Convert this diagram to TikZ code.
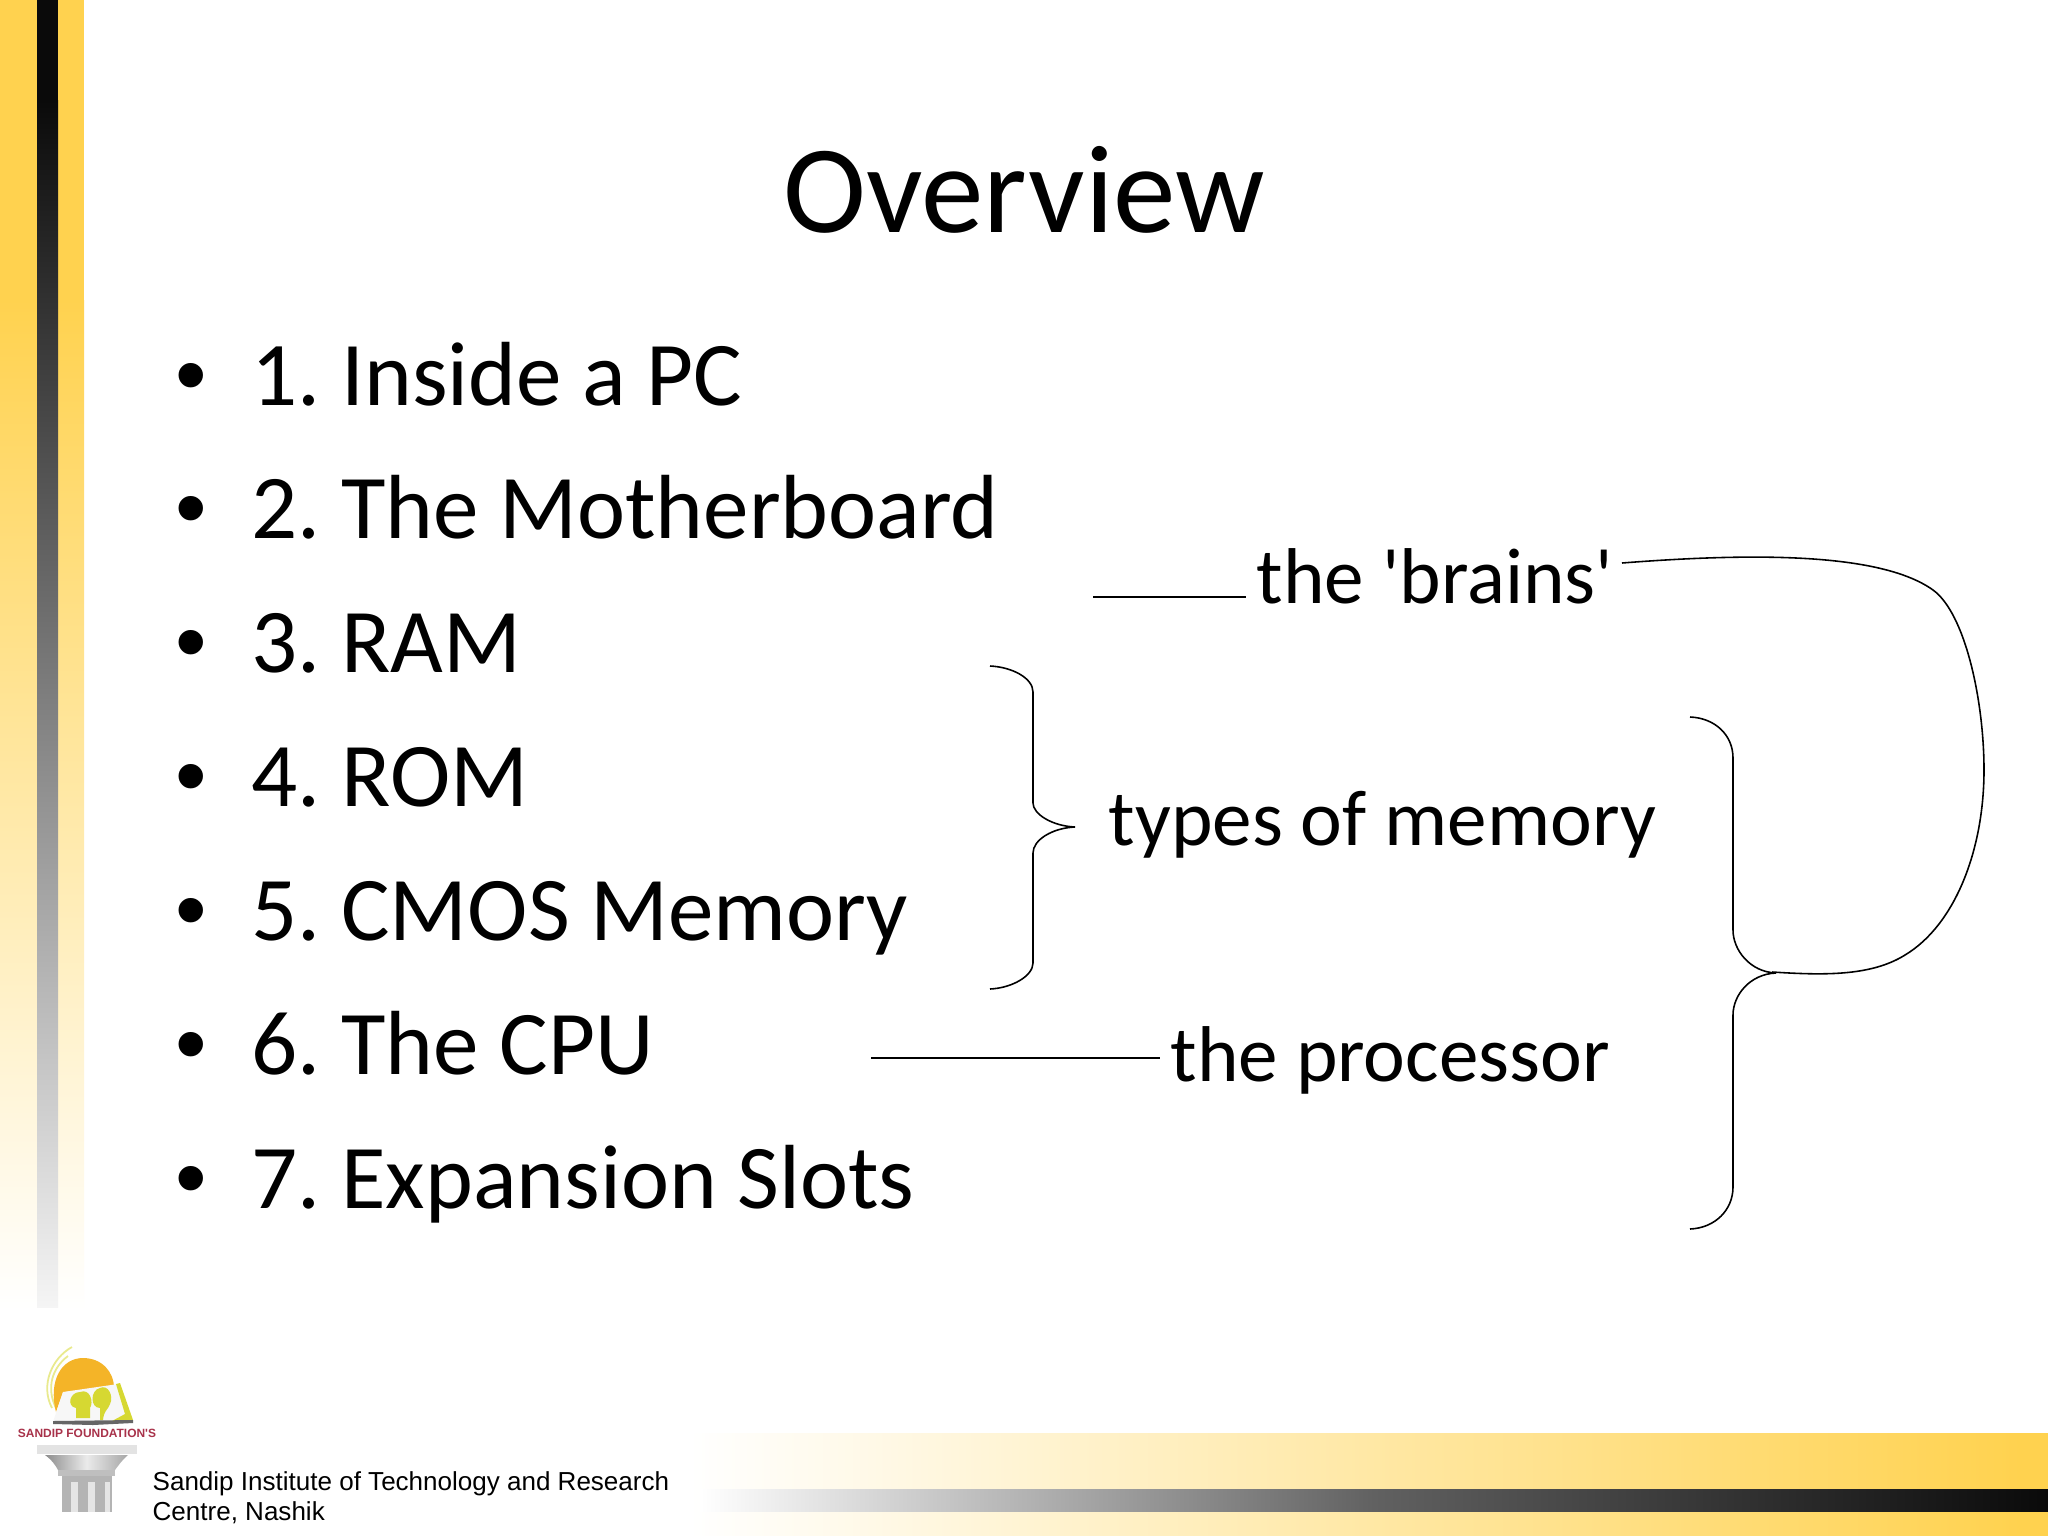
\documentclass[tikz,border=0pt]{standalone}
\usepackage{fontspec}
\setmainfont{Carlito}
\newfontfamily\labelfont{Carlito}
\newfontfamily\arialfont{Liberation Sans}
\frenchspacing
\definecolor{stripyellow}{HTML}{FFD24F}
\definecolor{stripblack}{HTML}{0A0A0A}
\definecolor{sunorange}{HTML}{F4B428}
\definecolor{treegreen}{HTML}{D6D832}
\definecolor{logored}{HTML}{A8324A}
\definecolor{pillargray}{HTML}{B4B4B4}
\tikzset{
	titletext/.style={anchor=base,font=\fontsize{35.6}{36}\selectfont,inner sep=0pt},
	itemtext/.style={anchor=base west,font=\fontsize{25.9}{26}\selectfont,inner sep=0pt},
	bullettext/.style={anchor=base,font=\arialfont\fontsize{25.6}{26}\selectfont,inner sep=0pt},
	notetext/.style={anchor=base west,font=\labelfont\fontsize{22.5}{23}\selectfont,inner sep=0pt},
	foottext/.style={anchor=base west,font=\arialfont\fontsize{7.4}{8}\selectfont,inner sep=0pt},
	thinline/.style={line width=0.45pt,black},
}
\newcommand{\drawitem}[3]{
	\node[bullettext] (bullet#1) at (191,#2) {•};
	\node[itemtext] (item#1) at (251,#2) {#3};
}
\newcommand{\drawstrips}{
	\fill[stripyellow] (0,0) rectangle (84,300);
	\shade[top color=stripyellow,bottom color=white] (0,300) rectangle (84,1310);
	\fill[stripblack] (37,0) rectangle (58,100);
	\shade[top color=stripblack,bottom color=black!4] (37,100) rectangle (58,1307);

	\shade[left color=white,right color=stripyellow] (690,1433) rectangle (2020,1536);
	\fill[stripyellow] (2020,1433) rectangle (2048,1536);
	\shade[left color=white,right color=stripblack,middle color=black!62] (700,1489) rectangle (2048,1511);
}
\newcommand{\drawlogo}{
	\draw[treegreen!55,line width=0.5pt] (72,1347) .. controls (52,1358) and (40,1385) .. (52,1408);
	\draw[treegreen!55,line width=0.5pt] (68,1356) .. controls (52,1368) and (46,1388) .. (56,1408);
	\fill[sunorange] (56,1412) .. controls (48,1380) and (62,1358) .. (83,1358) .. controls (102,1358) and (114,1372) .. (114,1388) -- (63,1392) -- cycle;
	\fill[white!97!black] (63,1392) -- (118,1384) -- (132,1420) -- (53,1422) -- cycle;
	\fill[treegreen] (116,1384) -- (120,1383) -- (133,1420) -- (112,1421) -- (125,1414) -- cycle;
	\fill[treegreen] (100,1420) -- (100,1408) .. controls (90,1408) and (90,1390) .. (100,1388) .. controls (108,1384) and (114,1396) .. (110,1404) .. controls (108,1410) and (104,1410) .. (103,1420) -- cycle;
	\fill[treegreen] (76,1418) -- (76,1408) .. controls (66,1406) and (70,1392) .. (80,1392) .. controls (90,1388) and (94,1402) .. (90,1408) -- (90,1418) -- cycle;
	\fill[black!60] (53,1421) -- (133,1420) -- (133,1423) -- (93,1425) -- (53,1424) -- cycle;
	\node[anchor=base,font=\arialfont\bfseries\fontsize{3.4}{4}\selectfont,text=logored,inner sep=0pt] (logoname) at (87,1437) {SANDIP FOUNDATION'S};
	\fill[black!11] (37,1445) rectangle (137,1454);
	\shade[left color=black!45,right color=black!35,middle color=black!8] (45,1455) .. controls (52,1460) and (56,1466) .. (58,1470) -- (115,1470) .. controls (118,1466) and (122,1460) .. (128,1455) -- cycle;
	\fill[black!25] (58,1470) rectangle (115,1476);
	\fill[pillargray] (62,1476) rectangle (112,1512);
	\fill[black!10] (71,1482) rectangle (78,1512);
	\fill[black!10] (88,1482) rectangle (95,1512);
	\fill[black!10] (105,1482) rectangle (110,1512);
}

\begin{document}
\begin{tikzpicture}[x=0.01cm,y=-0.01cm]
	\useasboundingbox (0,0) rectangle (2048,1536);
	\fill[white] (0,0) rectangle (2048,1536);
	\drawstrips{}
	\drawlogo{}

	\node[titletext] (title) at (1024,232) {Overview};

	\drawitem{1}{405}{1. Inside a PC}
	\drawitem{2}{538}{2. The Motherboard}
	\drawitem{3}{672}{3. RAM}
	\drawitem{4}{806}{4. ROM}
	\drawitem{5}{940}{5. CMOS Memory}
	\drawitem{6}{1074}{6. The CPU}
	\drawitem{7}{1208}{7. Expansion Slots}

	\node[notetext] (brains) at (1256,603) {the 'brains'};
	\node[notetext] (memory) at (1108,845) {types of memory};
	\node[notetext] (processor) at (1170,1081) {the processor};

	% lines towards the labels
	\coordinate (cpustart) at (1093,597);
	\coordinate (cpuend) at (1246,597);
	\coordinate (procstart) at (871,1058);
	\coordinate (procend) at (1160,1058);
	\draw[thinline] (cpustart) -- (cpuend);
	\draw[thinline] (procstart) -- (procend);

	% the two braces
	\draw[thinline] (990,666) .. controls (1012,667) and (1033,678) .. (1033,692) -- (1033,803) .. controls (1033,814) and (1052,826) .. (1075,827) .. controls (1052,828) and (1033,840) .. (1033,853) -- (1033,963) .. controls (1033,976) and (1012,988) .. (990,989);
	\draw[thinline] (1690,717) .. controls (1715,718) and (1733,735) .. (1733,758) -- (1733,930) .. controls (1733,950) and (1750,972) .. (1776,973) .. controls (1750,974) and (1733,995) .. (1733,1015) -- (1733,1187) .. controls (1733,1210) and (1715,1228) .. (1690,1229);

	% curve from the label into the big brace
	\coordinate (curvestart) at (1622,563);
	\coordinate (curveend) at (1772,972);
	\draw[thinline] (curvestart) .. controls (1750,553) and (1880,552) .. (1933,590) .. controls (1965,613) and (1984,700) .. (1984,770) .. controls (1984,850) and (1955,925) .. (1905,955) .. controls (1870,977) and (1820,975) .. (curveend);

	\node[foottext] (institute) at (152,1490) {Sandip Institute of Technology and Research};
	\node[foottext] (centre) at (152,1520) {Centre, Nashik};
\end{tikzpicture}
\end{document}
